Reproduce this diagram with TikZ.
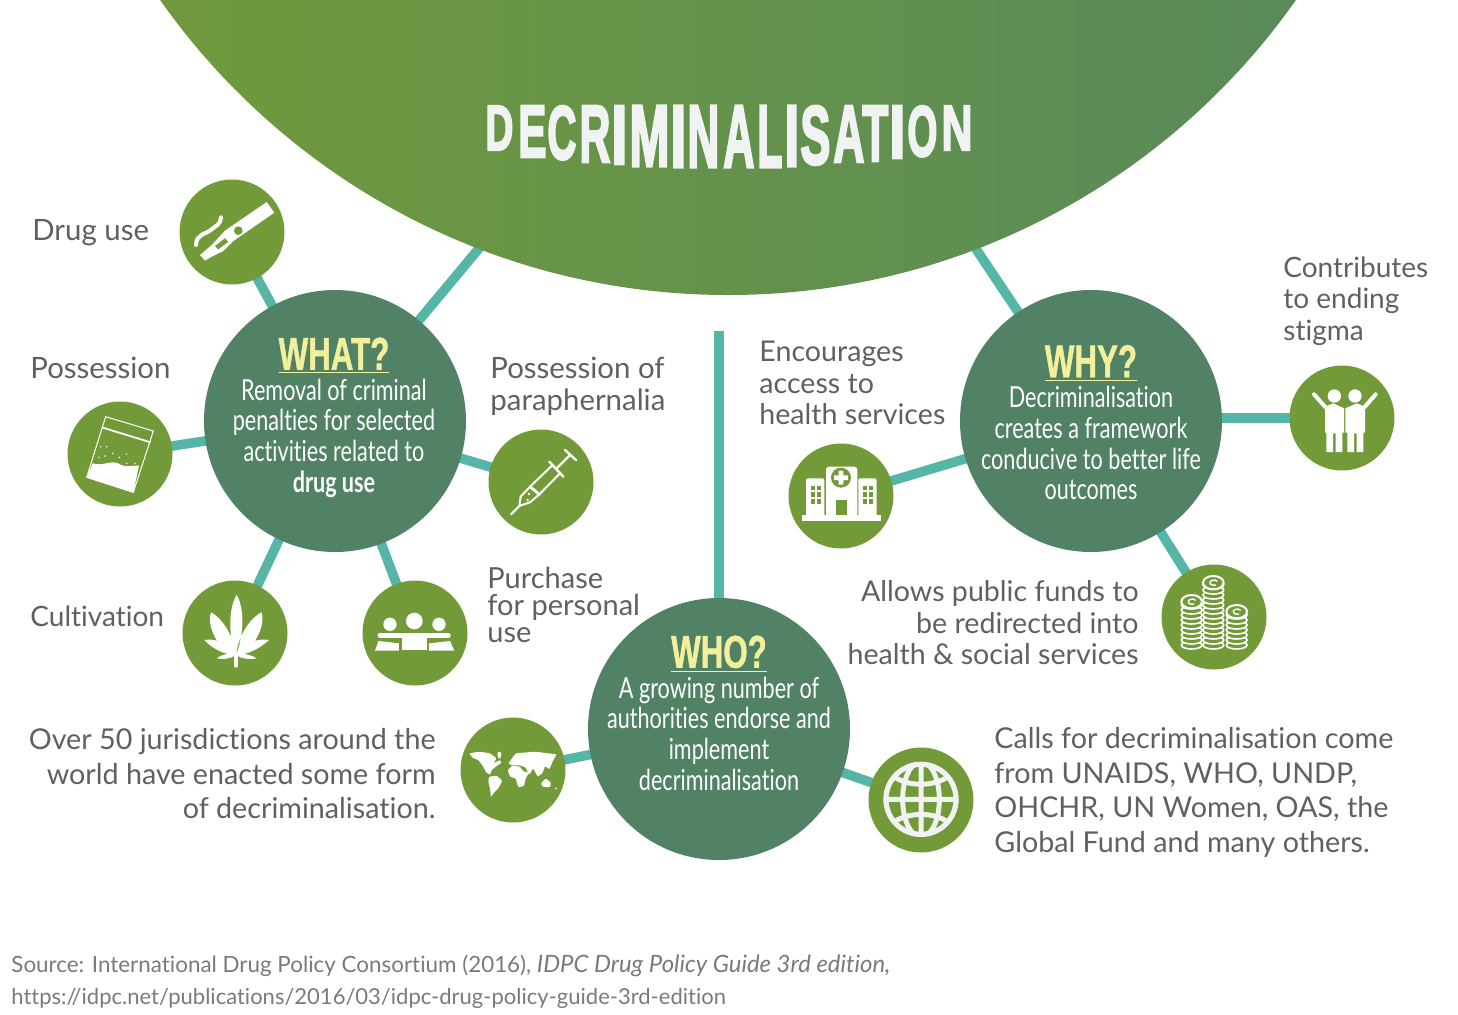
\documentclass[tikz,border=0pt]{standalone}
\usepackage{fontspec}
\usepackage{graphicx}
\usetikzlibrary{backgrounds}
\setmainfont[Ligatures=NoCommon]{Lato}
\newfontfamily\condfont[FakeStretch=0.745,Ligatures=NoCommon]{Lato}
\newfontfamily\headfont[FakeStretch=0.68,BoldFeatures={FakeBold=1}]{Liberation Sans}
\newfontfamily\titlefont[BoldFeatures={FakeBold=3.5}]{Liberation Sans}
\definecolor{leafgreen}{HTML}{739A39}
\definecolor{hubgreen}{HTML}{528266}
\definecolor{linkteal}{HTML}{55B5A6}
\definecolor{headyellow}{HTML}{F2F09B}
\definecolor{bodygrey}{HTML}{5E6062}
\definecolor{sourcegrey}{HTML}{7A7A7A}
\definecolor{paper}{HTML}{F1F3F2}
% one reference pixel
\newlength\pxu
\setlength\pxu{0.5pt}
\newcommand\titlechar[4]{\makebox[0pt][l]{\hspace*{\dimexpr\numexpr#1-485\relax\pxu\relax}\raisebox{-\dimexpr\numexpr#3-106\relax\pxu\relax}{\resizebox{\dimexpr\numexpr#2-#1\relax\pxu\relax}{\dimexpr\numexpr#3-106\relax\pxu\relax}{#4}}}}
\newcommand\hubhead[1]{{\headfont\bfseries\fontsize{23}{23}\selectfont\textcolor{headyellow}{\underline{#1}}}}
\tikzset{
	hub/.style={circle,fill=hubgreen,minimum size=131pt,inner sep=0pt},
	hubtext/.style={align=center,text=white,inner sep=0pt,font=\condfont\fontsize{14.5}{15.3}\selectfont},
	sat/.style={circle,fill=leafgreen,minimum size=52.5pt,inner sep=0pt},
	link/.style={draw=linkteal,line width=4.8pt},
	say/.style={text=bodygrey,inner sep=0pt,font=\fontsize{14.7}{15.8}\selectfont},
	zoomed/.style 2 args={shift={(#1,#2)},scale=1/3},
	iconline/.style={draw=white,line width=#1,line cap=round}
}
\begin{document}
\begin{tikzpicture}[x=0.5pt,y=-0.5pt]
	\useasboundingbox (0,0) rectangle (1458,1014);
	\clip (0,0) rectangle (1458,1014);
	% big circle
	\node[circle,minimum size=694pt,inner sep=0pt,left color={rgb,255:red,114;green,155;blue,56},right color={rgb,255:red,86;green,137;blue,94}] (bigc) at (728,-399) {};
	\node[anchor=base west,inner sep=0pt,text=paper] (title) at (485,106) {\titlefont\bfseries
		\titlechar{484}{512}{150}{D}\titlechar{517}{545}{157}{E}\titlechar{546}{575}{159}{C}\titlechar{578}{609}{162}{R}%
		\titlechar{610}{626}{164}{I}\titlechar{628}{668}{166}{M}\titlechar{669}{685}{167}{I}\titlechar{686}{718}{167}{N}%
		\titlechar{722}{753}{167}{A}\titlechar{756}{781}{167}{L}\titlechar{783}{798}{166}{I}\titlechar{799}{829}{164}{S}%
		\titlechar{832}{863}{162}{A}\titlechar{861}{887}{161}{T}\titlechar{888}{904}{158}{I}\titlechar{906}{936}{156}{O}%
		\titlechar{940}{971}{150}{N}};
	\coordinate (whatend) at (486,240);
	\coordinate (whyend) at (970,240);
	\coordinate (whotop) at (719,331);
	% hubs
	\node[hub] (what) at (335,421) {};
	\node[hub] (why) at (1091,421) {};
	\node[hub] (who) at (719,729) {};
	\node[hubtext] (whattext) at (334,417.5) {\hubhead{WHAT?}\\Removal of criminal\\penalties for selected\\activities related to\\\textbf{drug use}};
	\node[hubtext] (whytext) at (1091,422.5) {\hubhead{WHY?}\\Decriminalisation\\creates a framework\\conducive to better life\\outcomes};
	\node[hubtext] (whotext) at (719,713) {\hubhead{WHO?}\\A growing number of\\authorities endorse and\\implement\\decriminalisation};
	% small circles
	\node[sat] (drug) at (232,232) {};
	\node[sat] (bag) at (120,454) {};
	\node[sat] (syringe) at (541,482) {};
	\node[sat] (plant) at (235,633) {};
	\node[sat] (group) at (415,633) {};
	\node[sat] (clinic) at (841,496) {};
	\node[sat] (pair) at (1342,418) {};
	\node[sat] (coins) at (1214,617) {};
	\node[sat] (world) at (513,770) {};
	\node[sat] (globe) at (921,800) {};
	\begin{scope}[on background layer]
		\draw[link] (what.center)--(whatend);
		\draw[link] (why.center)--(whyend);
		\draw[link] (who.center)--(whotop);
		\foreach \s in {drug,bag,syringe,plant,group}{\draw[link] (what.center)--(\s.center);}
		\foreach \s in {clinic,coins}{\draw[link] (why.center)--(\s.center);}
		\draw[link] (why.center |- pair.center)--(pair.center);
		\foreach \s in {world,globe}{\draw[link] (who.center)--(\s.center);}
	\end{scope}
	% labels
	\node[say,anchor=west] (drugsay) at (32,233) {Drug use};
	\node[say,anchor=west] (bagsay) at (30,368) {Possession};
	\node[say,anchor=north west,align=left] (syringesay) at (490,357) {Possession of\\paraphernalia};
	\node[say,anchor=west,font=\fontsize{14}{15.8}\selectfont] (plantsay) at (30,616) {Cultivation};
	\node[say,anchor=north west,align=left,font=\fontsize{14.5}{13.5}\selectfont] (groupsay) at (487,567) {Purchase\\for personal\\use};
	\node[say,anchor=north west,align=left,font=\fontsize{14.3}{15.8}\selectfont] (clinicsay) at (759,340.5) {Encourages\\access to\\health services};
	\node[say,anchor=north west,align=left,font=\fontsize{14}{15.8}\selectfont] (pairsay) at (1283,256) {Contributes\\to ending\\stigma};
	\node[say,anchor=north east,align=right,font=\fontsize{14.3}{15.8}\selectfont] (coinssay) at (1139,580) {Allows public funds to\\be redirected into\\health \& social services};
	\node[say,anchor=north east,align=right,font=\fontsize{14.35}{17.3}\selectfont] (worldsay) at (436,728) {Over 50 jurisdictions around the\\world have enacted some form\\of decriminalisation.};
	\node[say,anchor=north west,align=left,font=\fontsize{14.35}{17.3}\selectfont] (globesay) at (994,727) {Calls for decriminalisation come\\from UNAIDS, WHO, UNDP,\\OHCHR, UN Women, OAS, the\\Global Fund and many others.};
	\node[anchor=north west,align=left,inner sep=0pt,text=sourcegrey,font=\fontsize{10.8}{16}\selectfont] (source) at (11,954) {\fontsize{11.2}{16}\selectfont Source: International Drug Policy Consortium (2016), \fontsize{11.95}{16}\selectfont\textit{IDPC Drug Policy Guide 3rd edition,}\\\fontsize{11}{16}\selectfont https://idpc.net/publications/2016/03/idpc-drug-policy-guide-3rd-edition};
	% pen
	\begin{scope}[zoomed={170}{170}]
		\fill[white] (290,96)--(313,128)--(190,213)--(160,243)--(125,260)--(105,272)--(90,255)--(125,225)--(165,182)--cycle;
		\fill[leafgreen] (205,182) circle (13);
		\fill[leafgreen] (135,228)--(165,205)--(175,215)--(145,238)--cycle;
		\draw[iconline=2pt] (78,225) .. controls (80,190) and (105,195) .. (125,178) .. controls (140,165) and (150,165) .. (153,142);
	\end{scope}
	% bag
	\begin{scope}[zoomed={60}{395}]
		\draw[white,line width=0.5pt] (137,65)--(280,108)--(220,292)--(80,247)--cycle;
		\draw[white,line width=0.9pt] (125,97)--(272,142);
		\fill[white] (80,247)--(98,205) .. controls (130,215) and (150,195) .. (175,205) .. controls (195,220) and (220,210) .. (237,212)--(220,292)--cycle;
		\foreach \dx/\dy in {140/155,122/155,200/177,117/187,135/183,158/175,178/187,200/205,225/205}{\fill[white] (\dx,\dy) circle (2.5);}
	\end{scope}
	% syringe
	\begin{scope}[zoomed={480}{425}]
		\draw[iconline=1.2pt] (255,75)--(288,105) (270,90)--(230,130) (208,110)--(250,155);
		\draw[iconline=1pt] (218,120)--(150,185)--(122,215)--(118,243)--(150,232)--(178,208)--(240,145);
		\draw[iconline=1.4pt] (150,185)--(178,208);
		\draw[iconline=1pt] (118,243)--(93,268);
		\fill[white] (147,207) circle (4) (143,225) circle (4);
	\end{scope}
	% leaf and people
	\begin{scope}[zoomed={175}{575}]
		\fill[white] (183,240) .. controls (155,170) and (165,90) .. (185,60) .. controls (205,90) and (211,170) .. (183,240)
			.. controls (125,225) and (95,150) .. (108,112) .. controls (135,125) and (175,175) .. (183,240)
			.. controls (241,225) and (271,150) .. (260,112) .. controls (231,125) and (191,175) .. (183,240)
			.. controls (150,240) and (110,220) .. (88,195) .. controls (125,188) and (160,208) .. (183,240)
			.. controls (216,240) and (256,220) .. (282,195) .. controls (241,188) and (206,208) .. (183,240)
			.. controls (165,252) and (145,254) .. (125,250) .. controls (140,238) and (165,232) .. (183,240)
			.. controls (201,252) and (221,254) .. (245,250) .. controls (226,238) and (201,232) .. (183,240);
		\draw[iconline=2pt] (184,240)--(184,272);
		\fill[white] (645,148) circle (20) (718,138) circle (25) (792,148) circle (20);
		\draw[iconline=2.5pt] (615,181)--(820,181);
		\fill[white] (682,178) rectangle (755,225);
		\fill[white] (610,198)--(672,205)--(672,227)--(600,227)--cycle;
		\fill[white] (825,198)--(762,205)--(762,227)--(838,227)--cycle;
	\end{scope}
	% hospital
	\begin{scope}[zoomed={780}{435}]
		\fill[white] (65,240) rectangle (303,258);
		\fill[white,rounded corners=1.5pt] (138,95) rectangle (232,245);
		\fill[white,rounded corners=1pt] (78,130) rectangle (133,245);
		\fill[white,rounded corners=1pt] (235,130) rectangle (290,245);
		\foreach \wx in {92,110,248,266}{\foreach \wy in {152,172,193}{\fill[leafgreen] (\wx,\wy) rectangle ++(14,13);}}
		\fill[leafgreen] (183,128) circle (30);
		\fill[white] (176,107) rectangle (190,149) (162,121) rectangle (204,135);
		\fill[leafgreen] (167,195) rectangle (202,240);
	\end{scope}
	% two people and coins
	\begin{scope}[zoomed={1155}{360}]
		\fill[white] (538,108) circle (20) (600,108) circle (20);
		\draw[iconline=2pt] (477,103)--(512,142) (662,103)--(628,142);
		\fill[white] (510,140)--(535,130)--(567,145)--(567,218)--(562,218)--(562,276)--(542,276)--(542,220)--(534,220)--(534,276)--(514,276)--(514,218)--(510,218)--cycle;
		\fill[white] (630,140)--(605,130)--(571,145)--(571,218)--(577,218)--(577,276)--(597,276)--(597,220)--(605,220)--(605,276)--(625,276)--(625,218)--(630,218)--cycle;
		\foreach \cx/\top in {110/725,245/755,175/668}{
			\foreach \cy in {855,840,...,\top}{\draw[white,fill=leafgreen,line width=0.8pt] (\cx,\cy) ellipse (31 and 12);}
			\draw[white,fill=leafgreen,line width=1pt] (\cx,\top) ellipse (31 and 20);
			\draw[white,line width=0.7pt] (\cx+12,\top-4) arc (-30:-300:12 and 8);
		}
	\end{scope}
	% world map
	\begin{scope}[zoomed={455}{710},rounded corners=0.5pt]
		\fill[white] (42,130)--(75,125)--(105,130)--(125,145)--(115,160)--(135,150)--(140,158)--(125,168)--(110,180)--(105,195)--(92,185)--(85,170)--(70,150)--(55,145)--cycle;
		\fill[white] (128,125)--(140,128)--(135,148)--(128,140)--cycle;
		\fill[white] (102,200)--(125,197)--(142,212)--(130,235)--(115,250)--(108,262)--(105,235)--(100,215)--cycle;
		\fill[white] (158,180)--(172,167)--(195,170)--(205,184)--(222,188)--(212,205)--(207,228)--(190,232)--(182,205)--(165,200)--cycle;
		\fill[white] (160,160)--(182,130)--(240,125)--(305,133)--(295,150)--(283,178)--(270,168)--(262,190)--(248,200)--(235,175)--(222,195)--(212,172)--(195,166)--(170,166)--cycle;
		\fill[white] (258,220)--(272,205)--(288,218)--(285,232)--(262,230)--cycle;
		\fill[white] (303,235) circle (3);
	\end{scope}
	% globe
	\begin{scope}[zoomed={860}{740}]
		\fill[paper] (183,178) circle (113);
		\fill[leafgreen] (183,178) circle (97);
		\begin{scope}
			\clip (183,178) circle (100);
			\draw[paper,line width=2.5pt] (183,60)--(183,296) (60,178)--(306,178) (183,178) ellipse (55 and 113);
			\draw[paper,line width=2.5pt] (95,105) .. controls (140,142) and (226,142) .. (271,105);
			\draw[paper,line width=2.5pt] (95,251) .. controls (140,214) and (226,214) .. (271,251);
		\end{scope}
	\end{scope}
\end{tikzpicture}
\end{document}
